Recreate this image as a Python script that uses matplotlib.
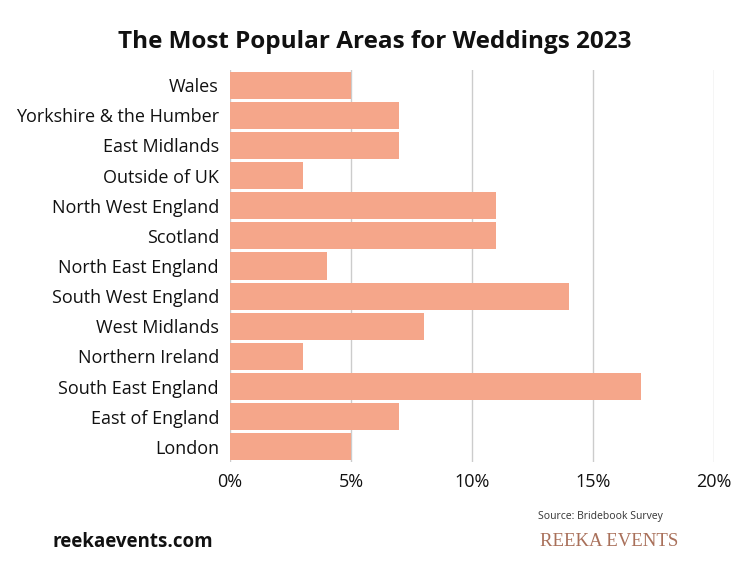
import matplotlib
matplotlib.use("Agg")
import matplotlib.pyplot as plt

regions = ["Wales", "Yorkshire & the Humber", "East Midlands", "Outside of UK",
           "North West England", "Scotland", "North East England", "South West England",
           "West Midlands", "Northern Ireland", "South East England", "East of England", "London"]
values = [5, 7, 7, 3, 11, 11, 4, 14, 8, 3, 17, 7, 5]
xticks = [0, 5, 10, 15, 20]
xticklabels = ["0%", "5%", "10%", "15%", "20%"]

plt.rcParams['font.family'] = ['Open Sans', 'DejaVu Sans']
fig = plt.figure(figsize=(7.5, 5.63), dpi=100)
ax = fig.add_axes([230/750, 1-462/563, 484/750, 392/563])
y = list(range(len(regions)))[::-1]
ax.barh(y, values, height=0.9, color="#F5A68A", zorder=3)
ax.set_yticks(y)
ax.set_yticklabels(regions, fontsize=13, color="#111111")
ax.set_xticks(xticks)
ax.set_xticklabels(xticklabels, fontsize=13, color="#111111")
ax.set_xlim(0, 20)
ax.set_ylim(-0.5, len(regions)-0.5)
ax.grid(axis="x", color="#cccccc", linewidth=1, zorder=0)
for s in ax.spines.values():
    s.set_visible(False)
ax.tick_params(length=0, pad=8)
fig.text(0.5, 1-42/563, "The Most Popular Areas for Weddings 2023", ha="center", va="center",
         fontsize=17.5, fontweight="bold", color="#111111")
fig.text(52/750, 1-542/563, "reekaevents.com", ha="left", va="center", fontsize=13.5,
         fontweight="bold", color="#111111")
fig.text(538/750, 1-517/563, "Source: Bridebook Survey", ha="left", va="center", fontsize=7.5,
         color="#333333")
fig.text(540/750, 1-541/563, "REEKA EVENTS", ha="left", va="center", fontsize=13.5,
         family=["Liberation Serif", "DejaVu Serif"], color="#A9705A")
fig.savefig("out.png", dpi=100)
